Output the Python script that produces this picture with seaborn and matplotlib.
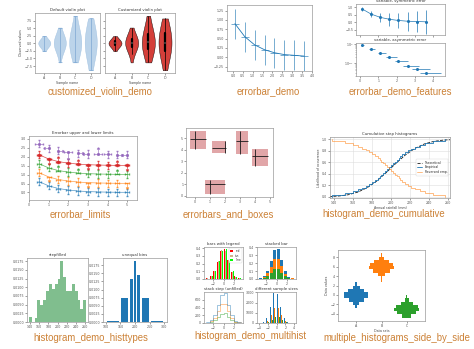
import numpy as np
import pandas as pd
import matplotlib
matplotlib.use("Agg")
import matplotlib.pyplot as plt
import seaborn as sns
from matplotlib.patches import Rectangle

sns.set_theme(style="white")
plt.rcParams["font.family"] = ["DejaVu Sans"]

# ---------------- data ----------------
gallery_names = ["customized_violin_demo", "errorbar_demo", "errorbar_demo_features",
                 "errorbar_limits", "errorbars_and_boxes", "histogram_demo_cumulative",
                 "histogram_demo_histtypes", "histogram_demo_multihist",
                 "multiple_histograms_side_by_side"]

# violin demo
violin_names = ["A", "B", "C", "D"]
violin_A = [-2.6, -1.7, -1.3, -1.0, -0.8, -0.6, -0.4, -0.3, -0.1, 0.0, 0.1, 0.2, 0.3, 0.5, 0.6, 0.8, 1.0, 1.3, 1.7, 2.4]
violin_B = [-6.3, -3.5, -2.7, -2.1, -1.6, -1.2, -0.8, -0.5, -0.2, 0.0, 0.2, 0.4, 0.7, 1.0, 1.3, 1.7, 2.2, 2.8, 3.6, 5.2]
violin_C = [-6.3, -5.0, -4.1, -3.3, -2.5, -1.8, -1.2, -0.7, -0.3, 0.1, 0.5, 1.0, 1.5, 2.1, 2.8, 3.5, 4.3, 5.3, 6.6, 9.1]
violin_D = [-8.9, -6.7, -5.3, -4.2, -3.3, -2.5, -1.8, -1.2, -0.6, -0.1, 0.4, 1.0, 1.6, 2.3, 3.1, 3.9, 4.8, 5.8, 6.9, 8.2]

# errorbar demo
eb_x = [0.1, 0.6, 1.1, 1.6, 2.1, 2.6, 3.1, 3.6]
eb_y = [0.90, 0.55, 0.33, 0.20, 0.12, 0.07, 0.05, 0.03]
eb_xerr = 0.2
eb_yerr = 0.4

# errorbar demo features
ef_err = [0.12, 0.22, 0.32, 0.42, 0.52, 0.62, 0.72, 0.82]
ef_lower_frac = 0.4

# errorbar limits
el_x = [0.5, 1.0, 1.5, 2.0, 2.5, 3.0, 3.5, 4.0, 4.5, 5.0]
el_y = [0.61, 0.37, 0.22, 0.14, 0.08, 0.05, 0.03, 0.02, 0.01, 0.01]
el_offsets = [0.0, 0.5, 1.0, 1.5, 2.1]
el_lolims = [0, 0, 1, 0, 1, 0, 0, 0, 1, 0]
el_uplims = [0, 1, 0, 0, 0, 1, 0, 0, 0, 1]
el_star_yerr = [0.2, 0.2, 0.2, 0.3, 0.2, 0.2, 0.3, 0.2, 0.2, 0.2]
el_star_lolims = [0, 0, 0, 0, 0, 0, 1, 0, 0, 0]
el_star_uplims = [0, 0, 0, 1, 0, 0, 0, 0, 0, 0]

# errorbars and boxes
bx_x = [0, 1, 2, 3, 4]
bx_y = [4.9, 1.05, 4.2, 4.8, 3.5]
bx_xerr_lo = [0.31, 0.31, 0.87, 0.29, 0.20]
bx_xerr_hi = [0.76, 1.02, 0.05, 0.53, 0.87]
bx_yerr_lo = [0.82, 0.88, 0.47, 1.13, 0.93]
bx_yerr_hi = [0.70, 0.35, 0.55, 0.83, 0.61]

# cumulative histogram
rain_sample = [138, 152, 160, 165, 170, 174, 177, 180, 183, 186, 188, 190, 192, 194, 196,
               198, 200, 202, 204, 206, 208, 210, 212, 215, 218, 221, 225, 230, 236, 244, 257]
theo_x = [135, 145, 155, 165, 175, 185, 195, 205, 215, 225, 235, 245, 255, 265]
theo_cdf = [0.005, 0.014, 0.036, 0.081, 0.159, 0.274, 0.421, 0.579, 0.726, 0.841, 0.919, 0.964, 0.986, 0.995]

# histtypes
sf_range = (137, 263)
sf_density = [0.0015, 0.0, 0.0012, 0.0063, 0.0048, 0.0063, 0.0088, 0.0108, 0.0095, 0.0108,
              0.0125, 0.0175, 0.0128, 0.0088, 0.0088, 0.0108, 0.0088, 0.0063, 0.0038, 0.0063]
ub_edges = [100, 150, 180, 195, 205, 220, 250, 300]
ub_density = [0.0004, 0.0075, 0.0131, 0.0187, 0.0144, 0.0075, 0.0004]

# multihist
mh_range = (-3.3, 3.3)
mh_names = ["red", "tan", "lime"]
mh_set1 = [6, 22, 68, 150, 240, 262, 160, 64, 22, 6]
mh_set2 = [8, 26, 72, 158, 250, 244, 162, 58, 16, 6]
mh_set3 = [4, 24, 66, 152, 245, 257, 152, 72, 20, 8]
ms_range = (-4.0, 4.0)
ms_sizes = ["10000", "5000", "2000"]
ms_n1 = [8, 80, 470, 1560, 2900, 2860, 1580, 460, 72, 10]
ms_n2 = [3, 40, 240, 790, 1430, 1450, 770, 240, 35, 2]
ms_n3 = [1, 14, 95, 310, 580, 570, 320, 90, 17, 3]

# side by side
sbs_labels = ["A", "B", "C"]
sbs_range = (-4.8, 8.8)
sbs_A = [0, 0, 1, 6, 24, 60, 96, 99, 65, 27, 7, 1, 0, 0, 0, 0, 0, 0, 0, 0]
sbs_B = [0, 0, 0, 0, 0, 0, 0, 0, 0, 0, 0, 1, 8, 29, 67, 100, 94, 58, 22, 6]
sbs_C = [37, 77, 102, 87, 48, 17, 4, 1, 0, 0, 1, 0, 0, 0, 0, 0, 0, 0, 0, 0]

# ---------------- figure ----------------
W, H = 474, 349
fig = plt.figure(figsize=(W / 100, H / 100), dpi=100)
fig.patch.set_facecolor("white")

C = sns.color_palette("tab10")
FS = 2.3
TFS = 2.8
CAP_COLOR = "#cc8136"


def px_axes(l, t, r, b, **kw):
    return fig.add_axes([l / W, 1 - b / H, (r - l) / W, (b - t) / H], **kw)


def style(ax):
    ax.set_facecolor("white")
    for s in ax.spines.values():
        s.set_visible(True)
        s.set_color("#9a9a9a")
        s.set_linewidth(0.5)
    ax.tick_params(labelsize=FS, length=1.2, width=0.4, pad=0.8, colors="#555555",
                   left=True, bottom=True, direction="out")
    ax.xaxis.label.set_size(FS)
    ax.yaxis.label.set_size(FS)
    ax.xaxis.labelpad = 1
    ax.yaxis.labelpad = 1
    ax.xaxis.label.set_color("#444444")
    ax.yaxis.label.set_color("#444444")


def title(ax, text):
    ax.set_title(text, fontsize=TFS, pad=1.2, color="#333333")


def caption(x, y, text):
    fig.text(x / W, 1 - y / H, text, ha="center", va="center", color=CAP_COLOR,
             fontsize=6.9, family=["Liberation Sans", "DejaVu Sans"])


def centers_of(lo, hi, n):
    e = np.linspace(lo, hi, n + 1)
    return list(e), list((e[:-1] + e[1:]) / 2)


# ===== 1. customized violin demo =====
violin_values = [violin_A, violin_B, violin_C, violin_D]
vdf = pd.DataFrame({"name": np.repeat(violin_names, [len(v) for v in violin_values]),
                    "value": np.concatenate(violin_values)})
ax = px_axes(35, 13, 100, 73)
sns.violinplot(data=vdf, x="name", y="value", ax=ax, color="#bcd4ea", linecolor="#9dbfe0",
               linewidth=0.3, inner=None, cut=0, width=0.78, bw_adjust=1.6,
               density_norm="width", saturation=1)
for i, vals in enumerate(violin_values):
    ax.vlines(i, min(vals), max(vals), color="#6d9ccc", lw=0.4)
    ax.hlines([min(vals), max(vals)], i - 0.12, i + 0.12, color="#6d9ccc", lw=0.4)
ax.set_ylim(-9.8, 10)
ax.set_xlim(-0.6, 3.6)
ax.set_yticks([-7.5, -5.0, -2.5, 0.0, 2.5, 5.0, 7.5])
ax.set_ylabel("Observed values")
ax.set_xlabel("Sample name")
style(ax)
title(ax, "Default violin plot")

ax2 = px_axes(105, 13, 175, 73)
sns.violinplot(data=vdf, x="name", y="value", ax=ax2, color="#D43F3A", linecolor="black",
               linewidth=0.3, inner="box", cut=0, width=0.78, bw_adjust=1.6,
               density_norm="width", saturation=1,
               inner_kws=dict(box_width=1.6, whis_width=0.5))
ax2.set_ylim(-9.8, 10)
ax2.set_xlim(-0.6, 3.6)
ax2.set_yticks([-7.5, -5.0, -2.5, 0.0, 2.5, 5.0, 7.5])
ax2.set_ylabel("")
ax2.set_xlabel("Sample name")
style(ax2)
ax2.tick_params(labelleft=False)
title(ax2, "Customized violin plot")
caption(100, 91, gallery_names[0])

# ===== 2. errorbar demo =====
ax = px_axes(227, 5, 312, 71)
sns.lineplot(x=eb_x, y=eb_y, ax=ax, color=C[0], lw=0.6)
ax.errorbar(eb_x, eb_y, xerr=eb_xerr, yerr=eb_yerr, fmt="none", ecolor=C[0], elinewidth=0.6, alpha=0.7)
ax.set_xlim(-0.3, 4.0)
ax.set_ylim(-0.37, 1.40)
ax.set_xticks([0.0, 0.5, 1.0, 1.5, 2.0, 2.5, 3.0, 3.5, 4.0])
ax.set_yticks([-0.25, 0.0, 0.25, 0.5, 0.75, 1.0, 1.25])
style(ax)
caption(268, 91, gallery_names[1])

# ===== 3. errorbar demo features =====
ax = px_axes(356, 4, 445, 35)
ax.errorbar(eb_x, eb_y, yerr=ef_err, fmt="-o", color=C[0], lw=0.5, elinewidth=0.5, ms=1.2)
ax.set_xlim(-0.22, 4.64)
ax.set_ylim(-0.85, 1.22)
ax.set_yticks([-0.5, 0.0, 0.5, 1.0])
ax.set_xticks([0, 1, 2, 3, 4])
style(ax)
ax.tick_params(labelbottom=False)
title(ax, "variable, symmetric error")

ax = px_axes(356, 43, 445, 76)
asym = [np.array(ef_err) * ef_lower_frac, ef_err]
ax.errorbar(eb_x, eb_y, xerr=asym, fmt="o", color=C[0], elinewidth=0.5, ms=1.2)
ax.set_yscale("log")
ax.set_xlim(-0.22, 4.64)
ax.set_ylim(0.02, 1.15)
ax.set_xticks([0, 1, 2, 3, 4])
style(ax)
ax.tick_params(which="minor", length=0.6, width=0.3, left=True)
title(ax, "variable, asymmetric error")
caption(400, 91, gallery_names[2])

# ===== 4. errorbar limits =====
ax = px_axes(29, 136, 137, 200)
x = np.array(el_x)
y = np.array(el_y)
lol = np.array(el_lolims, dtype=bool)
upl = np.array(el_uplims, dtype=bool)
kw = dict(lw=0.5, elinewidth=0.5, capsize=0.8, ms=1.0, alpha=0.75)
ax.errorbar(x, y + el_offsets[0], xerr=0.1, yerr=0.2, linestyle="-", color=C[0], **kw)
ax.errorbar(x, y + el_offsets[1], xerr=0.1, yerr=0.2, uplims=upl, linestyle="-", color=C[1], **kw)
ax.errorbar(x, y + el_offsets[2], xerr=0.1, yerr=0.2, lolims=lol, linestyle="-", color=C[2], **kw)
ax.errorbar(x, y + el_offsets[3], xerr=0.1, yerr=0.2, lolims=lol, uplims=upl, marker="o",
            markersize=1.6, linestyle="-", color=C[3], lw=0.5, elinewidth=0.5, capsize=0.8,
            alpha=0.85)
ax.errorbar(x, y + el_offsets[4], xerr=0.2, yerr=el_star_yerr, xlolims=lol, xuplims=upl,
            lolims=np.array(el_star_lolims, bool), uplims=np.array(el_star_uplims, bool),
            marker="*", markersize=1.8, linestyle="none", color=C[4], elinewidth=0.5, capsize=0.8,
            alpha=0.85)
ax.set_xlim(0, 5.5)
ax.set_ylim(-0.42, 3.15)
ax.set_yticks([0.0, 0.5, 1.0, 1.5, 2.0, 2.5, 3.0])
style(ax)
title(ax, "Errorbar upper and lower limits")
caption(80, 214, gallery_names[3])

# ===== 5. errorbars and boxes =====
ax = px_axes(186, 128, 273, 197)
for xi, yi, xl, xh, yl, yh in zip(bx_x, bx_y, bx_xerr_lo, bx_xerr_hi, bx_yerr_lo, bx_yerr_hi):
    ax.add_patch(Rectangle((xi - xl, yi - yl), xl + xh, yl + yh, facecolor="r", alpha=0.5,
                           edgecolor="none"))
ax.errorbar(bx_x, bx_y, xerr=[bx_xerr_lo, bx_xerr_hi], yerr=[bx_yerr_lo, bx_yerr_hi],
            fmt="none", ecolor="k", elinewidth=0.6)
ax.set_xlim(-0.6, 5.2)
ax.set_ylim(-0.1, 5.9)
ax.set_xticks([0, 1, 2, 3, 4, 5])
ax.set_yticks([0, 1, 2, 3, 4, 5])
style(ax)
caption(228, 214, gallery_names[4])

# ===== 6. histogram demo cumulative =====
ax = px_axes(330, 137, 450, 198)
sns.lineplot(x=theo_x, y=theo_cdf, ax=ax, color="k", linestyle="--", lw=0.6, label="Theoretical")
rdf = pd.DataFrame({"rain": rain_sample})
sns.ecdfplot(data=rdf, x="rain", ax=ax, color=C[0], lw=0.6, label="Empirical")
sns.ecdfplot(data=rdf, x="rain", ax=ax, complementary=True, color=C[1], lw=0.6, alpha=0.6,
             label="Reversed emp.")
ax.set_xlim(136, 262)
ax.set_ylim(-0.02, 1.04)
ax.set_xticks([140, 160, 180, 200, 220, 240, 260])
ax.set_yticks([0.0, 0.2, 0.4, 0.6, 0.8, 1.0])
ax.grid(True, color="#dddddd", lw=0.4)
ax.set_xlabel("Annual rainfall (mm)")
ax.set_ylabel("Likelihood of occurrence")
style(ax)
ax.legend(loc="right", fontsize=2.2, handlelength=1.5, borderpad=0.4, labelspacing=0.3,
          frameon=True, edgecolor="#cccccc").get_frame().set_linewidth(0.3)
title(ax, "Cumulative step histograms")
caption(384, 214, gallery_names[5])

# ===== 7. histogram demo histtypes =====
ax = px_axes(27, 258, 88, 322)
sf_edges, sf_centers = centers_of(sf_range[0], sf_range[1], len(sf_density))
sfdf = pd.DataFrame({"x": sf_centers, "w": sf_density})
sns.histplot(data=sfdf, x="x", weights="w", bins=sf_edges, ax=ax, element="step", fill=True,
             color="g", alpha=0.75, linewidth=0)
ax.set_xlim(133, 267)
ax.set_ylim(0, 0.0184)
ax.set_xticks([140, 160, 180, 200, 220, 240, 260])
ax.set_yticks([0.0, 0.0025, 0.005, 0.0075, 0.01, 0.0125, 0.015, 0.0175])
ax.yaxis.set_major_formatter(matplotlib.ticker.FormatStrFormatter("%.4f"))
ax.set_ylabel("")
ax.set_xlabel("")
style(ax)
title(ax, "stepfilled")

ax = px_axes(103, 258, 167, 322)
ub_centers = [(a + b) / 2 for a, b in zip(ub_edges[:-1], ub_edges[1:])]
ubdf = pd.DataFrame({"x": ub_centers, "w": ub_density})
sns.histplot(data=ubdf, x="x", weights="w", bins=ub_edges, ax=ax, color=C[0], alpha=1,
             shrink=0.8, linewidth=0)
ax.set_xlim(90, 310)
ax.set_ylim(0, 0.0197)
ax.set_xticks([100, 150, 200, 250, 300])
ax.set_yticks([0.0, 0.0025, 0.005, 0.0075, 0.01, 0.0125, 0.015, 0.0175])
ax.yaxis.set_major_formatter(matplotlib.ticker.FormatStrFormatter("%.4f"))
ax.set_ylabel("")
ax.set_xlabel("")
style(ax)
title(ax, "unequal bins")
caption(91, 338, gallery_names[6])

# ===== 8. histogram demo multihist =====
mh_edges, mh_centers = centers_of(mh_range[0], mh_range[1], len(mh_set1))
mdf = pd.DataFrame({"set": np.repeat(mh_names, len(mh_set1)),
                    "x": np.tile(mh_centers, 3),
                    "w": np.concatenate([mh_set1, mh_set2, mh_set3])})
pal_named = dict(zip(mh_names, ["red", "tan", "lime"]))
pal_default = dict(zip(mh_names, [C[0], C[1], C[2]]))

ax = px_axes(204, 247, 243, 279)
sns.histplot(data=mdf, x="x", weights="w", hue="set", bins=mh_edges, stat="density",
             common_norm=False, multiple="dodge", shrink=0.8, palette=pal_named, alpha=1,
             linewidth=0, ax=ax)
sns.move_legend(ax, "upper right", fontsize=1.9, title=None, frameon=True, handlelength=1.2,
                handleheight=0.6, borderpad=0.3, labelspacing=0.2)
ax.get_legend().get_frame().set_linewidth(0.3)
ax.set_xlim(-3.7, 3.7)
ax.set_xticks([-2, 0, 2])
ax.set_yticks([0.0, 0.1, 0.2, 0.3, 0.4])
ax.set_ylabel("")
ax.set_xlabel("")
style(ax)
title(ax, "bars with legend")

ax = px_axes(257, 247, 296, 279)
sns.histplot(data=mdf, x="x", weights="w", hue="set", bins=mh_edges, stat="density",
             common_norm=True, multiple="stack", palette=pal_default, alpha=1, linewidth=0,
             shrink=0.8, ax=ax, legend=False)
ax.set_xlim(-3.7, 3.7)
ax.set_xticks([-2, 0, 2])
ax.set_yticks([0.0, 0.1, 0.2, 0.3, 0.4])
ax.set_ylabel("")
ax.set_xlabel("")
style(ax)
title(ax, "stacked bar")

ax = px_axes(204, 292, 243, 323)
sns.histplot(data=mdf, x="x", weights="w", hue="set", bins=mh_edges, stat="count",
             multiple="stack", element="step", fill=False, palette=pal_default, linewidth=0.5,
             alpha=0.6, ax=ax, legend=False)
ax.set_xlim(-3.7, 3.7)
ax.set_xticks([-2, 0, 2])
ax.set_yticks([0, 200, 400, 600])
ax.set_ylabel("")
ax.set_xlabel("")
style(ax)
title(ax, "stack step (unfilled)")

ms_edges, ms_centers = centers_of(ms_range[0], ms_range[1], len(ms_n1))
sdf = pd.DataFrame({"n": np.repeat(ms_sizes, len(ms_n1)),
                    "x": np.tile(ms_centers, 3),
                    "w": np.concatenate([ms_n1, ms_n2, ms_n3])})
ax = px_axes(257, 292, 296, 323)
sns.histplot(data=sdf, x="x", weights="w", hue="n", bins=ms_edges,
             stat="count", multiple="dodge", shrink=0.8, palette=dict(zip(ms_sizes, [C[0], C[1], C[2]])),
             alpha=1, linewidth=0, ax=ax, legend=False)
ax.set_xlim(-4.4, 4.4)
ax.set_xticks([-4, -2, 0, 2, 4])
ax.set_yticks([0, 1000, 2000, 3000])
ax.set_ylabel("")
ax.set_xlabel("")
style(ax)
title(ax, "different sample sizes")
caption(250, 336, gallery_names[7])

# ===== 9. multiple histograms side by side =====
ax = px_axes(338, 250, 425, 321)
sbs_sets = [sbs_A, sbs_B, sbs_C]
sbs_edges, sbs_centers = centers_of(sbs_range[0], sbs_range[1], len(sbs_A))
heights = np.diff(sbs_edges)
step = max(max(s) for s in sbs_sets)
x_locations = np.arange(len(sbs_sets)) * step
for i, (xl, counts) in enumerate(zip(x_locations, sbs_sets)):
    counts = np.array(counts)
    ax.barh(sbs_centers, counts, height=heights, left=xl - 0.5 * counts, color=C[i], linewidth=0)
ax.set_xticks(x_locations)
ax.set_xticklabels(sbs_labels)
ax.set_xlim(-0.72 * step, x_locations[-1] + 0.72 * step)
ax.set_ylim(-5.5, 9.5)
ax.set_yticks([-4, -2, 0, 2, 4, 6, 8])
ax.set_xlabel("Data sets")
ax.set_ylabel("Data values")
style(ax)
caption(397, 338, gallery_names[8])

fig.savefig("out.png", dpi=100, facecolor="white")
